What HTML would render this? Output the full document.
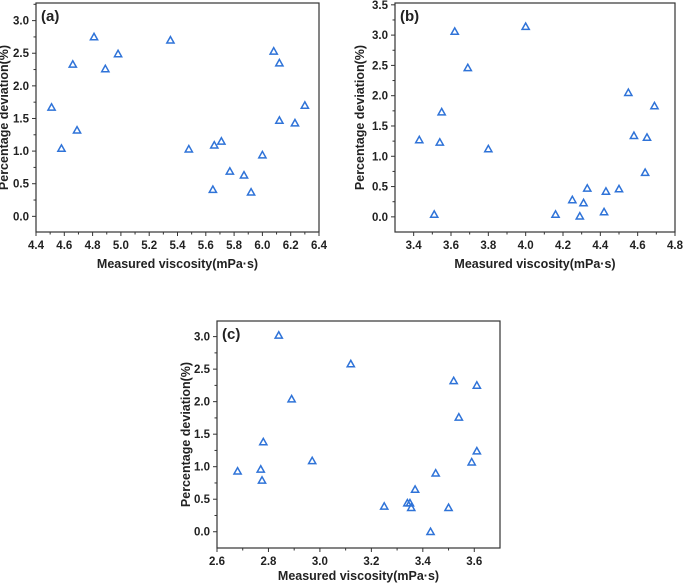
<!DOCTYPE html>
<html><head><meta charset="utf-8"><style>
body{margin:0;background:#fff;width:685px;height:587px;overflow:hidden}
svg{display:block;font-family:"Liberation Sans",Arial,sans-serif;font-weight:bold}
</style></head><body>
<svg id="chart" width="685" height="587" viewBox="0 0 685 587"></svg>
<script>
const aX=[4.51,4.58,4.66,4.69,4.81,4.89,4.98,5.35,5.48,5.65,5.66,5.71,5.77,5.87,5.92,6.0,6.08,6.12,6.12,6.23,6.30];
const aY=[1.67,1.04,2.33,1.32,2.75,2.26,2.49,2.70,1.03,0.41,1.09,1.15,0.69,0.63,0.37,0.94,2.53,1.47,2.35,1.43,1.70];
const bX=[3.43,3.51,3.54,3.55,3.62,3.69,3.80,4.0,4.16,4.25,4.29,4.31,4.33,4.42,4.43,4.50,4.55,4.58,4.64,4.65,4.69];
const bY=[1.27,0.04,1.23,1.73,3.06,2.46,1.12,3.14,0.04,0.28,0.01,0.23,0.47,0.08,0.42,0.46,2.05,1.34,0.73,1.31,1.83];
const cX=[2.68,2.77,2.775,2.78,2.84,2.89,2.97,3.12,3.25,3.34,3.35,3.355,3.37,3.43,3.45,3.50,3.52,3.54,3.59,3.61,3.61];
const cY=[0.93,0.96,0.79,1.38,3.02,2.04,1.09,2.58,0.39,0.44,0.44,0.37,0.65,0.0,0.90,0.37,2.32,1.76,1.07,1.24,2.25];
const aXTicks=["4.4","4.6","4.8","5.0","5.2","5.4","5.6","5.8","6.0","6.2","6.4"];
const aYTicks=["0.0","0.5","1.0","1.5","2.0","2.5","3.0"];
const bXTicks=["3.4","3.6","3.8","4.0","4.2","4.4","4.6","4.8"];
const bYTicks=["0.0","0.5","1.0","1.5","2.0","2.5","3.0","3.5"];
const cXTicks=["2.6","2.8","3.0","3.2","3.4","3.6"];
const cYTicks=["0.0","0.5","1.0","1.5","2.0","2.5","3.0"];

const NS="http://www.w3.org/2000/svg";
const svg=document.getElementById('chart');
function mk(tag,at,parent){const e=document.createElementNS(NS,tag);for(const k in at)e.setAttribute(k,at[k]);(parent||svg).appendChild(e);return e;}

function panel(id,L,R,T,B,xmin,xmax,ymin,ymax,xt,yt,xs,ys,label,ylx,xly){
  const g=mk('g',{});
  
  
  const sx=v=>L+(v-xmin)/(xmax-xmin)*(R-L);
  const sy=v=>B-(v-ymin)/(ymax-ymin)*(B-T);
  const fr=mk('rect',{x:L,y:T,width:R-L,height:B-T,fill:'none',stroke:'#333','stroke-width':1.2},g);
  
  
  xt.forEach((t,i)=>{const v=parseFloat(t),x=sx(v);
    mk('line',{x1:x,x2:x,y1:B,y2:B+4,stroke:'#333'},g);
    if(i<xt.length-1){const xm=sx(v+0.1);mk('line',{x1:xm,x2:xm,y1:B,y2:B+2.5,stroke:'#333'},g);}
    const tx=mk('text',{x:x,y:B+17,'font-size':11.5,'text-anchor':'middle',fill:'#222'},g);tx.textContent=t;
    
    });
  yt.forEach((t,i)=>{const v=parseFloat(t),y=sy(v);
    mk('line',{x1:L-4,x2:L,y1:y,y2:y,stroke:'#333'},g);
    const ym=sy(v+0.25);if(ym>T)mk('line',{x1:L-2.5,x2:L,y1:ym,y2:ym,stroke:'#333'},g);
    const ymm=sy(v-0.25);if(i==0&&ymm<B)mk('line',{x1:L-2.5,x2:L,y1:ymm,y2:ymm,stroke:'#333'},g);
    const tx=mk('text',{x:L-7,y:y+4,'font-size':11.5,'text-anchor':'end',fill:'#222'},g);tx.textContent=t;
    
    });
  xs.forEach((xv,i)=>{const x=sx(xv),y=sy(ys[i]);
    const p=mk('polygon',{points:`${x},${y-3.6} ${x-3.6},${y+2.8} ${x+3.6},${y+2.8}`,fill:'none',stroke:'#2f73d8','stroke-width':1.5},g);
    
    });
  const pl=mk('text',{x:L+5,y:T+18,'font-size':15,fill:'#222'},g);pl.textContent=label;
  
  
  const yl=mk('text',{x:0,y:0,'font-size':12.5,'text-anchor':'middle',fill:'#222',transform:`translate(${ylx},${(T+B)/2}) rotate(-90)`},g);yl.textContent='Percentage deviation(%)';
  
  
  const xl=mk('text',{x:(L+R)/2,y:xly,'font-size':12.5,'text-anchor':'middle',fill:'#222'},g);xl.textContent='Measured viscosity(mPa·s)';
  
  
}
panel('a',36,319,3,232,4.4,6.4,-0.24,3.27,aXTicks,aYTicks,aX,aY,'(a)',8,268);
panel('b',395,675,3,232,3.3,4.8,-0.25,3.53,bXTicks,bYTicks,bX,bY,'(b)',364,268);
panel('c',217,500,321,548,2.6,3.7,-0.25,3.24,cXTicks,cYTicks,cX,cY,'(c)',190,580);
</script>
</body></html>
